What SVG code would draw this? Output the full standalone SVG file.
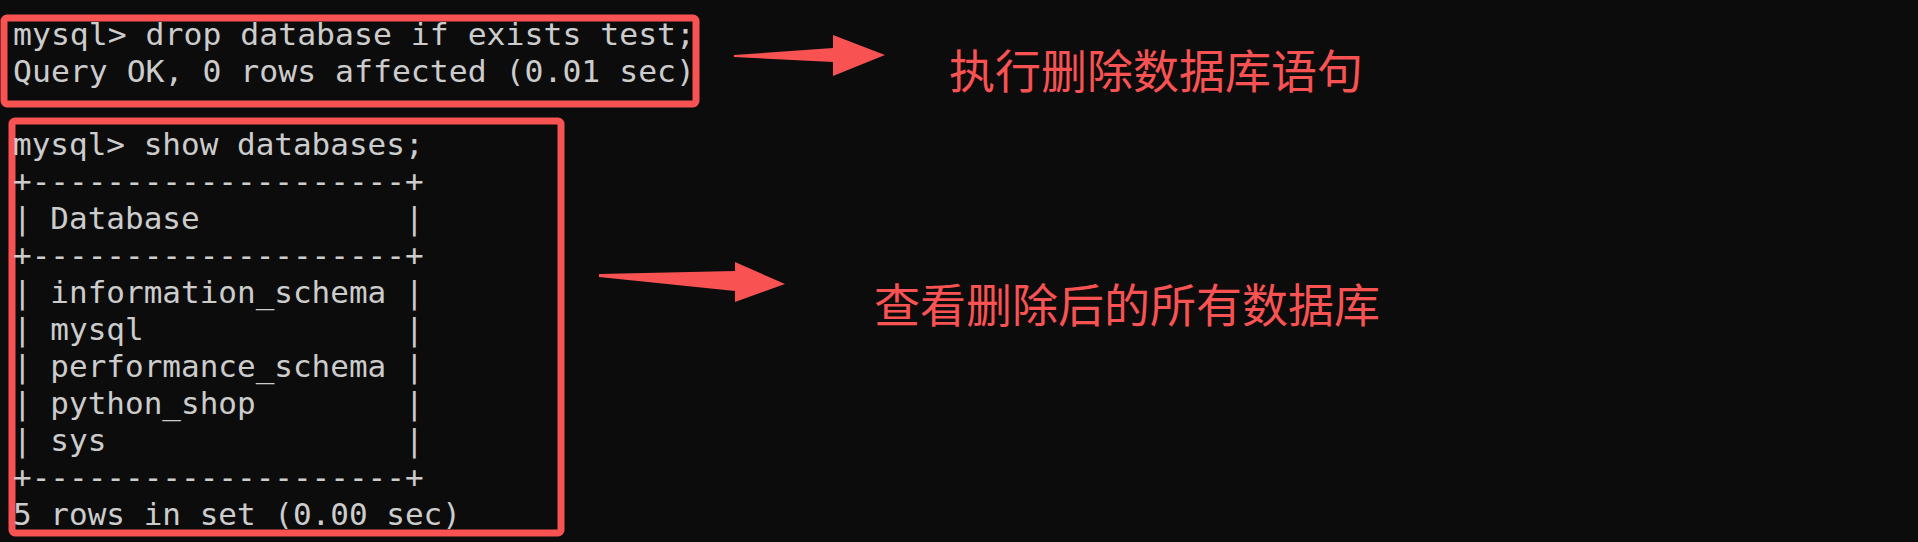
<svg xmlns="http://www.w3.org/2000/svg" width="1918" height="542" viewBox="0 0 1918 542">
<style>
.t{font-family:"DejaVu Sans Mono","Liberation Mono",monospace;font-size:31px;fill:#cccccc;white-space:pre}
.box{fill:none;stroke:#f85252;stroke-width:7}
.cn{font-family:"Noto Sans CJK SC",sans-serif;font-size:46px;fill:#f85252}
.arr{fill:#f85252}
</style>
<rect width="1918" height="542" fill="#0c0c0c"/>
<g id="cmd1">
<rect class="box" x="4" y="18" width="692" height="86" rx="3"/>
<text class="t" x="13" y="45" textLength="682" lengthAdjust="spacingAndGlyphs">mysql&gt; drop database if exists test;</text>
<text class="t" x="13" y="82" textLength="682" lengthAdjust="spacingAndGlyphs">Query OK, 0 rows affected (0.01 sec)</text>
</g>
<g id="cmd2">
<rect class="box" x="12" y="121" width="549" height="412" rx="3"/>
<text class="t" x="13" y="155">mysql&gt; show databases;</text>
<text class="t" x="13" y="192">+--------------------+</text>
<text class="t" x="13" y="229">| Database           |</text>
<text class="t" x="13" y="266">+--------------------+</text>
<text class="t" x="13" y="303">| information_schema |</text>
<text class="t" x="13" y="340">| mysql              |</text>
<text class="t" x="13" y="377">| performance_schema |</text>
<text class="t" x="13" y="414">| python_shop        |</text>
<text class="t" x="13" y="451">| sys                |</text>
<text class="t" x="13" y="488">+--------------------+</text>
<text class="t" x="13" y="525">5 rows in set (0.00 sec)</text>
</g>
<g id="connectors">
<polygon class="arr" points="734,55 833,48 833,35 885,55 833,76 833,62 734,57"/>
<polygon class="arr" points="599,274 735,271 735,262 785,284 735,302 735,291 599,277"/>
</g>
<g id="label1"><text class="cn" x="949" y="88">执行删除数据库语句</text></g>
<g id="label2"><text class="cn" x="874" y="322">查看删除后的所有数据库</text></g>
</svg>
